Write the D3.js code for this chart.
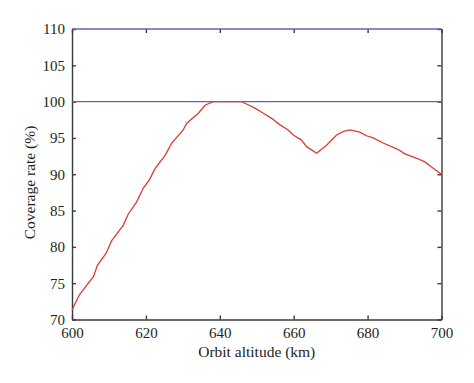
<!DOCTYPE html>
<html>
<head>
<meta charset="utf-8">
<script src="https://cdn.jsdelivr.net/npm/d3@7"></script>
<style>
  body { margin: 0; background: #fff; }
  svg text { font-family: "Liberation Serif", "DejaVu Serif", serif; fill: #231f20; }
</style>
</head>
<body>
<svg id="chart"></svg>
<script>
var width = 474,
    height = 383;

var MARGIN = { LEFT: 72, RIGHT: 32.5, TOP: 29, BOTTOM: 63.5 };

// orbit altitude (km) and coverage rate (%)
var altitude = [600, 602, 603.8, 605.8, 606.9, 609.2, 610.8, 613.9, 615.2, 617.5, 619.3, 620.9,
    622.5, 625.2, 627, 630.1, 631, 634.2, 636, 638.2, 640, 642, 644, 645.9, 647.5, 649.5, 651.8,
    654, 656.3, 658.5, 659.9, 662.1, 663.5, 666.2, 668.9, 671.6, 673.5, 675.3, 677.9, 679.7,
    681.5, 684.2, 688.3, 690.1, 693.3, 695.5, 697.3, 700];
var coverage = [71.3, 73.4, 74.6, 75.9, 77.5, 79.1, 80.9, 83.0, 84.5, 86.2, 88.1, 89.2,
    90.8, 92.6, 94.3, 96.1, 97.0, 98.4, 99.5, 100, 100, 100, 100, 100, 99.6, 99.1, 98.4,
    97.7, 96.8, 96.1, 95.4, 94.7, 93.8, 92.9, 94.0, 95.4, 95.9, 96.1, 95.8, 95.3,
    95.0, 94.3, 93.4, 92.8, 92.2, 91.7, 91.0, 90.0];

// reference lines
var refLines = [100, 110];

var xTicks = [600, 620, 640, 660, 680, 700];
var yTicks = [70, 75, 80, 85, 90, 95, 100, 105, 110];

var xScale = d3.scaleLinear()
    .domain([600, 700])
    .range([MARGIN.LEFT, width - MARGIN.RIGHT]);

var yScale = d3.scaleLinear()
    .domain([70, 110])
    .range([height - MARGIN.BOTTOM, MARGIN.TOP]);

var svg = d3.select('#chart')
    .attr('width', width)
    .attr('height', height);

var axisColor = '#3a3a3a';

// bottom axis, ticks pointing inward
svg.append('g')
    .attr('class', 'x axis')
    .attr('transform', 'translate(0,' + yScale(70) + ')')
    .call(d3.axisBottom(xScale).tickValues(xTicks).tickSizeInner(-4).tickSizeOuter(0).tickPadding(8));

svg.append('g')
    .attr('class', 'y axis')
    .attr('transform', 'translate(' + xScale(600) + ',0)')
    .call(d3.axisLeft(yScale).tickValues(yTicks).tickSizeInner(-4).tickSizeOuter(0).tickPadding(7));

// top and right mirror ticks
svg.append('g')
    .attr('class', 'top')
    .attr('transform', 'translate(0,' + yScale(110) + ')')
    .call(d3.axisTop(xScale).tickValues(xTicks).tickSizeInner(-4).tickSizeOuter(0).tickFormat(''));

svg.append('g')
    .attr('transform', 'translate(' + xScale(700) + ',0)')
    .call(d3.axisRight(yScale).tickValues(yTicks).tickSizeInner(-4).tickSizeOuter(0).tickFormat(''));

svg.select('g.top .domain').remove();

svg.selectAll('.domain, .tick line')
    .attr('stroke', axisColor)
    .attr('stroke-width', 1.4);

svg.selectAll('.tick text')
    .style('font-size', '15px')
    .attr('fill', '#231f20');

// blue reference lines
svg.selectAll('line.ref')
    .data(refLines)
    .enter()
    .append('line')
    .attr('class', 'ref')
    .attr('x1', xScale(600))
    .attr('x2', xScale(700))
    .attr('y1', function (d) { return yScale(d); })
    .attr('y2', function (d) { return yScale(d); })
    .attr('stroke', '#6262b4')
    .attr('stroke-width', 1.3);

// coverage curve
var line = d3.line()
    .x(function (d, i) { return xScale(altitude[i]); })
    .y(function (d) { return yScale(d); });

svg.append('path')
    .datum(coverage)
    .attr('d', line)
    .attr('fill', 'none')
    .attr('stroke', '#de3a32')
    .attr('stroke-width', 1.3);

// axis labels
svg.append('text')
    .attr('x', (xScale(600) + xScale(700)) / 2)
    .attr('y', 357)
    .attr('text-anchor', 'middle')
    .style('font-size', '15.5px')
    .text('Orbit altitude (km)');

svg.append('text')
    .attr('transform', 'translate(35,' + 182.5 + ') rotate(-90)')
    .attr('text-anchor', 'middle')
    .style('font-size', '15.5px')
    .text('Coverage rate (%)');
</script>
</body>
</html>
